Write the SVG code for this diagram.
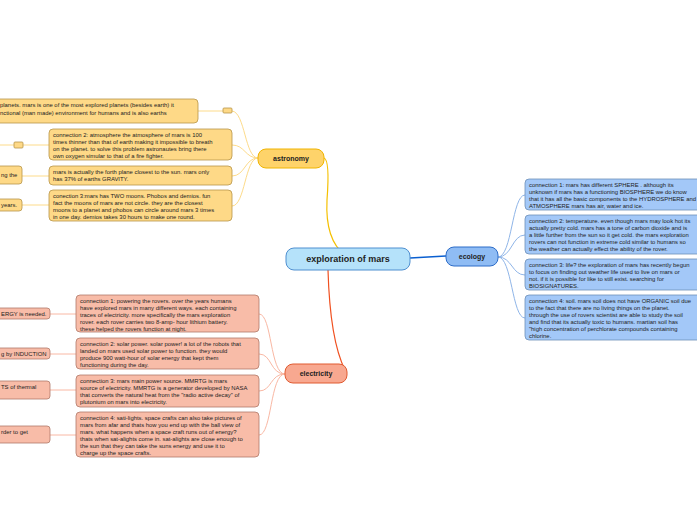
<svg xmlns="http://www.w3.org/2000/svg" width="697" height="520" viewBox="0 0 697 520">
<style>
text{font-family:"Liberation Sans",Arial,sans-serif;font-size:5.9px;fill:#222}
.a{fill:#fed987;stroke:#b8964a;stroke-width:0.8}
.e{fill:#a3c8f8;stroke:#6d8fb8;stroke-width:0.8}
.l{fill:#f8bca8;stroke:#b07a6a;stroke-width:0.8}
.ca{fill:none;stroke:#fddb8a;stroke-width:1}
.cl{fill:none;stroke:#f9b8a4;stroke-width:1}
.ce{fill:none;stroke:#8fb5e8;stroke-width:1}
.t{font-size:7px;font-weight:bold}
</style>
<rect width="697" height="520" fill="#fff"/>
<g id="connectors">
<path d="M324,158 Q330,160 327,200 Q325,240 345,255" fill="none" stroke="#f5c000" stroke-width="1.2"/>
<path d="M410,258 L446,256" fill="none" stroke="#0a5fd0" stroke-width="1.5"/>
<path d="M328,270 Q330,340 345,370" fill="none" stroke="#f05020" stroke-width="1.2"/>
<path class="ca" d="M258,158 C245,158 245,112 232,111"/>
<path class="ca" d="M258,158 C245,158 245,145 232,145"/>
<path class="ca" d="M258,158 C245,158 245,176 232,176"/>
<path class="ca" d="M258,158 C245,158 245,206 232,206"/>
<path class="ca" d="M198,111 L223,111"/>
<path class="ca" d="M23,145 L49,145"/>
<path class="ca" d="M0,145 L14,145"/>
<path class="ca" d="M22,176 L49,176"/>
<path class="ca" d="M22,205 L49,205"/>
<path class="ce" d="M498,257 C512,257 512,195 525,195"/>
<path class="ce" d="M498,257 C512,257 512,235 525,235"/>
<path class="ce" d="M498,257 C512,257 512,275 525,275"/>
<path class="ce" d="M498,257 C512,257 512,318 525,318"/>
<path class="cl" d="M285,374 C270,374 272,314 259,314"/>
<path class="cl" d="M285,374 C270,374 272,354 259,354"/>
<path class="cl" d="M285,374 C270,374 272,391 259,391"/>
<path class="cl" d="M285,374 C270,374 272,435 259,435"/>
<path class="cl" d="M50,314 L76,314"/>
<path class="cl" d="M50,354 L76,354"/>
<path class="cl" d="M50,390 L76,390"/>
<path class="cl" d="M50,435 L76,435"/>
</g>
<g id="center"><rect x="286" y="248" width="124" height="22" rx="8" fill="#b5e2fa" stroke="#4f8fd0" stroke-width="1"/><text x="348" y="262" class="t" text-anchor="middle" style="font-size:9px">exploration of mars</text></g>
<g id="astronomy"><rect x="258" y="149" width="66" height="19" rx="8" fill="#fed36a" stroke="#f0b400"/><text x="291" y="161" class="t" text-anchor="middle">astronomy</text></g>
<g id="ecology"><rect x="446" y="247" width="52" height="19" rx="8" fill="#8fbcf4" stroke="#2c6cc8"/><text x="472" y="259" class="t" text-anchor="middle">ecology</text></g>
<g id="electricity"><rect x="285" y="364" width="62" height="19" rx="8" fill="#f8a890" stroke="#e05a30"/><text x="316" y="376" class="t" text-anchor="middle">electricity</text></g>

<g id="a1"><rect class="a" x="-5" y="99" width="203" height="24" rx="4"/><text x="0" y="107">planets. mars is one of the most explored planets (besides earth) it</text><text x="0" y="115">nctional (man made) environment for humans and is also earths</text><rect class="a" x="223" y="108" width="9" height="5" rx="1"/></g>
<g id="a2"><rect class="a" x="49" y="129" width="183" height="31" rx="4"/><text x="53" y="137">connection 2: atmosphere the atmosphere of mars is 100</text><text x="53" y="144">times thinner than that of earth making it impossible to breath</text><text x="53" y="151">on the planet. to solve this problem astronautes bring there</text><text x="53" y="158">own oxygen simular to that of a fire fighter.</text><rect class="a" x="14" y="142" width="9" height="6" rx="1"/></g>
<g id="a3"><rect class="a" x="49" y="166" width="183" height="19" rx="4"/><text x="53" y="174">mars is actually the forth plane closest to the sun. mars only</text><text x="53" y="181">has 37% of earths GRAVITY.</text><rect class="a" x="-5" y="166" width="27" height="18" rx="3"/><text x="1" y="177">ng the</text></g>
<g id="a4"><rect class="a" x="49" y="190" width="183" height="31" rx="4"/><text x="53" y="198">conection 3:mars has TWO moons. Phobos and demios. fun</text><text x="53" y="205">fact the moons of mars are not circle. they are the closest</text><text x="53" y="212">moons to a planet and phobos can circle around mars 3 times</text><text x="53" y="219">in one day. demios takes 30 hours to make one round.</text><rect class="a" x="-5" y="199" width="27" height="12" rx="3"/><text x="1" y="207">years.</text></g>

<g id="e1"><rect class="e" x="525" y="179" width="180" height="31" rx="4"/><text x="529" y="187">connection 1: mars has different SPHERE . although its</text><text x="529" y="194">unknown if mars has a functioning BIOSPHERE we do know</text><text x="529" y="201">that it has all the basic components to the HYDROSPHERE and</text><text x="529" y="208">ATMOSPHERE mars has air, water and ice.</text></g>
<g id="e2"><rect class="e" x="525" y="215" width="180" height="39" rx="4"/><text x="529" y="223">connection 2: temperature. even though mars may look hot its</text><text x="529" y="230">actually pretty cold. mars has a tone of carbon dioxide and is</text><text x="529" y="237">a little further from the sun so it get cold. the mars exploration</text><text x="529" y="244">rovers can not function in extreme cold similar to humans so</text><text x="529" y="251">the weather can actually effect the ability of the rover.</text></g>
<g id="e3"><rect class="e" x="525" y="259" width="180" height="31" rx="4"/><text x="529" y="267">connection 3: life? the exploration of mars has recently begun</text><text x="529" y="274">to focus on finding out weather life used to live on mars or</text><text x="529" y="281">not. if it is possible for like to still exist. searching for</text><text x="529" y="288">BIOSIGNATURES.</text></g>
<g id="e4"><rect class="e" x="525" y="295" width="180" height="45" rx="4"/><text x="529" y="303">connection 4: soil. mars soil does not have ORGANIC soil due</text><text x="529" y="310">to the fact that there are no living things on the planet.</text><text x="529" y="317">through the use of rovers scientist are able to study the soil</text><text x="529" y="324">and find that its actually toxic to humans. martian soil has</text><text x="529" y="331">"high concentration of perchlorate compounds containing</text><text x="529" y="338">chlorine.</text></g>

<g id="l1"><rect class="l" x="76" y="295" width="183" height="37" rx="4"/><text x="80" y="303">connection 1: powering the rovers. over the years humans</text><text x="80" y="310">have explored mars in many different ways. each containing</text><text x="80" y="317">traces of electricity. more specifically the mars exploration</text><text x="80" y="324">rover. each rover carries two 8-amp- hour lithium battery.</text><text x="80" y="331">these helped the rovers function at night.</text><rect class="l" x="-5" y="308" width="55" height="11" rx="3"/><text x="1" y="316">ERGY is needed.</text></g>
<g id="l2"><rect class="l" x="76" y="338" width="183" height="31" rx="4"/><text x="80" y="346">connection 2: solar power. solar power! a lot of the robots that</text><text x="80" y="353">landed on mars used solar power to function. they would</text><text x="80" y="360">produce 900 watt-hour of solar energy that kept them</text><text x="80" y="367">functioning during the day.</text><rect class="l" x="-5" y="348" width="55" height="11" rx="3"/><text x="1" y="356">g by INDUCTION</text></g>
<g id="l3"><rect class="l" x="76" y="375" width="183" height="32" rx="4"/><text x="80" y="383">connection 3: mars main power source.  MMRTG is mars</text><text x="80" y="390">source of electricity. MMRTG is a generator developed by NASA</text><text x="80" y="397">that converts the natural heat from the "radio active decay" of</text><text x="80" y="404">plutonium on mars into electricity.</text><rect class="l" x="-5" y="381" width="55" height="18" rx="3"/><text x="1" y="389">TS of thermal</text></g>
<g id="l4"><rect class="l" x="76" y="412" width="183" height="45" rx="4"/><text x="80" y="420">connection 4: sati-lights. space crafts can also take pictures of</text><text x="80" y="427">mars from afar and thats how you end up with the ball view of</text><text x="80" y="434">mars. what happens when a space craft runs out of energy?</text><text x="80" y="441">thats when sat-alights come in. sat-alights are close enough to</text><text x="80" y="448">the sun that they can take the suns energy and use it to</text><text x="80" y="455">charge up the space crafts.</text><rect class="l" x="-5" y="426" width="55" height="17" rx="3"/><text x="1" y="434">rder to get</text></g>
</svg>
